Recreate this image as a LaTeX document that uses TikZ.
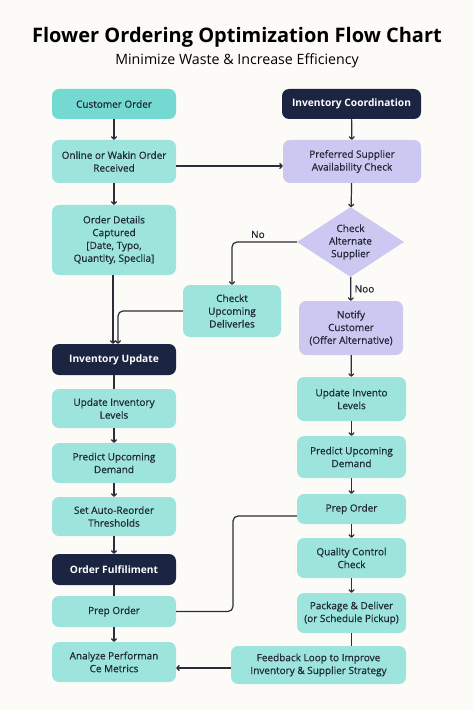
\documentclass[tikz,border=0pt]{standalone}
\usepackage{fontspec}
\setmainfont{Open Sans}
\newfontfamily\medfont[FakeBold=0.6]{Open Sans}
\usetikzlibrary{shapes.geometric,arrows.meta}

\definecolor{paper}{HTML}{FDFBF8}
\definecolor{tealA}{HTML}{74D9D0}
\definecolor{tealB}{HTML}{9DE4DD}
\definecolor{lav}{HTML}{CDC8F1}
\definecolor{navy}{HTML}{1B2541}
\definecolor{ink}{HTML}{1F2937}
\definecolor{wire}{HTML}{2A2E38}

\tikzset{
  box/.style={rectangle, rounded corners=7pt, align=center, inner sep=2pt,
    text=ink, font=\medfont\fontsize{10}{12.8}\selectfont},
  cust/.style={box, fill=tealA},
  proc/.style={box, fill=tealB},
  lavbox/.style={box, fill=lav},
  hdr/.style={box, fill=navy, text=white, font=\fontsize{10.2}{12.8}\bfseries},
  dec/.style={diamond, fill=lav, aspect=1.53, inner sep=0pt, align=center,
    text=ink, font=\medfont\fontsize{10}{12.6}\selectfont},
  ln/.style={draw=wire, line width=1.2pt},
  arr/.style={ln, -{To[length=3.5pt,width=6pt]}},
}

\begin{document}
\begin{tikzpicture}[x=1pt, y=-1pt]
	\fill[paper] (0,0) rectangle (474,711);
	\useasboundingbox (0,0) rectangle (474,711);

	\node (title) at (237,37) {\fontsize{20}{22}\bfseries Flower Ordering Optimization Flow Chart};
	\node (sub) at (237,61) {\fontsize{14.2}{16}\selectfont Minimize Waste \& Increase Efficiency};

	\node[cust, minimum width=124, minimum height=30] (cust) at (114,104) {Customer Order};
	\node[proc, minimum width=124, minimum height=43] (recv) at (114,161.5) {Online or Wakin Order\\Received};
	\node[proc, minimum width=124, minimum height=70] (details) at (114,240) {Order Details\\Captured\\{[}Date, Typo,\\Quantity, Speclia{]}};
	\node[hdr, minimum width=124, minimum height=31] (invupd) at (114,359.5) {Inventory Update};
	\node[proc, minimum width=124, minimum height=39] (levels) at (114,408.5) {Update Inventory\\Levels};
	\node[proc, minimum width=124, minimum height=40] (predict) at (114,463) {Predict Upcoming\\Demand};
	\node[proc, minimum width=124, minimum height=39] (thresh) at (114,516.5) {Set Auto-Reorder\\Thresholds};
	\node[hdr, minimum width=124, minimum height=31] (fulfil) at (114,569.5) {Order Fulfiliment};
	\node[proc, minimum width=124, minimum height=31] (prep) at (114,611.5) {Prep Order};
	\node[proc, minimum width=124, minimum height=40] (analyze) at (114,662) {Analyze Performan\\Ce Metrics};

	\node[hdr, minimum width=139, minimum height=30] (coord) at (351.5,104) {Inventory Coordination};
	\node[lavbox, minimum width=138, minimum height=43] (pref) at (352,161.5) {Preferred Supplier\\Availability Check};
	\node[dec, minimum width=107, minimum height=70] (alt) at (350.5,242) {Check\\Alternate\\Supplier};
	\node[proc, minimum width=98, minimum height=52] (checkt) at (232,311) {Checkt\\Upcoming\\Deliverles};
	\node[lavbox, minimum width=104, minimum height=54] (notify) at (351,328) {Notify\\Customer\\(Offer Alternative)};
	\node[proc, minimum width=109, minimum height=44] (rlevels) at (351.5,399) {Update Invento\\Levels};
	\node[proc, minimum width=109, minimum height=42] (rpredict) at (351.5,457) {Predict Upcoming\\Demand};
	\node[proc, minimum width=109, minimum height=30] (rprep) at (351.5,509) {Prep Order};
	\node[proc, minimum width=109, minimum height=40] (quality) at (351.5,558) {Quality Control\\Check};
	\node[proc, minimum width=109, minimum height=40] (package) at (351.5,613) {Package \& Deliver\\(or Schedule Pickup)};
	\node[proc, minimum width=175, minimum height=38] (feedback) at (318.5,665) {Feedback Loop to Improve\\Inventory \& Supplier Strategy};

	\coordinate (bend) at (233,516);

	\draw[arr] (cust) -- (recv);
	\draw[arr] ([yshift=-4.5pt]recv.east) -- ([yshift=-4.5pt]recv.east -| pref.west);
	\draw[arr] (recv) -- (details);
	\draw[arr] (coord) -- (pref);
	\draw[arr] (pref) -- (alt);
	\draw[arr, rounded corners=5pt] (alt.west) -| node[pos=0.3, above, text=ink, font=\medfont\fontsize{10}{12}\selectfont] {No} (checkt.north);
	\draw[arr] (alt) -- node[right, text=ink, font=\medfont\fontsize{10}{12}\selectfont] {Noo} (notify);
	\draw[arr] ([xshift=-1pt]details.south) -- ([xshift=-1pt]invupd.north);
	\draw[arr, rounded corners=5pt] (checkt.west) -| ([xshift=4pt]invupd.north);
	\draw[ln] (invupd) -- (levels);
	\draw[arr] (levels) -- (predict);
	\draw[arr] (predict) -- (thresh);
	\draw[arr] (thresh) -- (fulfil);
	\draw[ln] (fulfil) -- (prep);
	\draw[arr] (prep) -- (analyze);
	\draw[arr] (notify) -- (rlevels);
	\draw[arr] (rlevels) -- (rpredict);
	\draw[arr] (rpredict) -- (rprep);
	\draw[arr] (rprep) -- (quality);
	\draw[arr] (quality) -- (package);
	\draw[ln] (package) -- (package |- feedback.north);
	\draw[arr] ([yshift=-3pt]feedback.west) -- ([yshift=-3pt]feedback.west -| analyze.east);
	\draw[ln, rounded corners=5pt] (prep.east) -| (bend) -- (bend -| rprep.west);
\end{tikzpicture}
\end{document}
